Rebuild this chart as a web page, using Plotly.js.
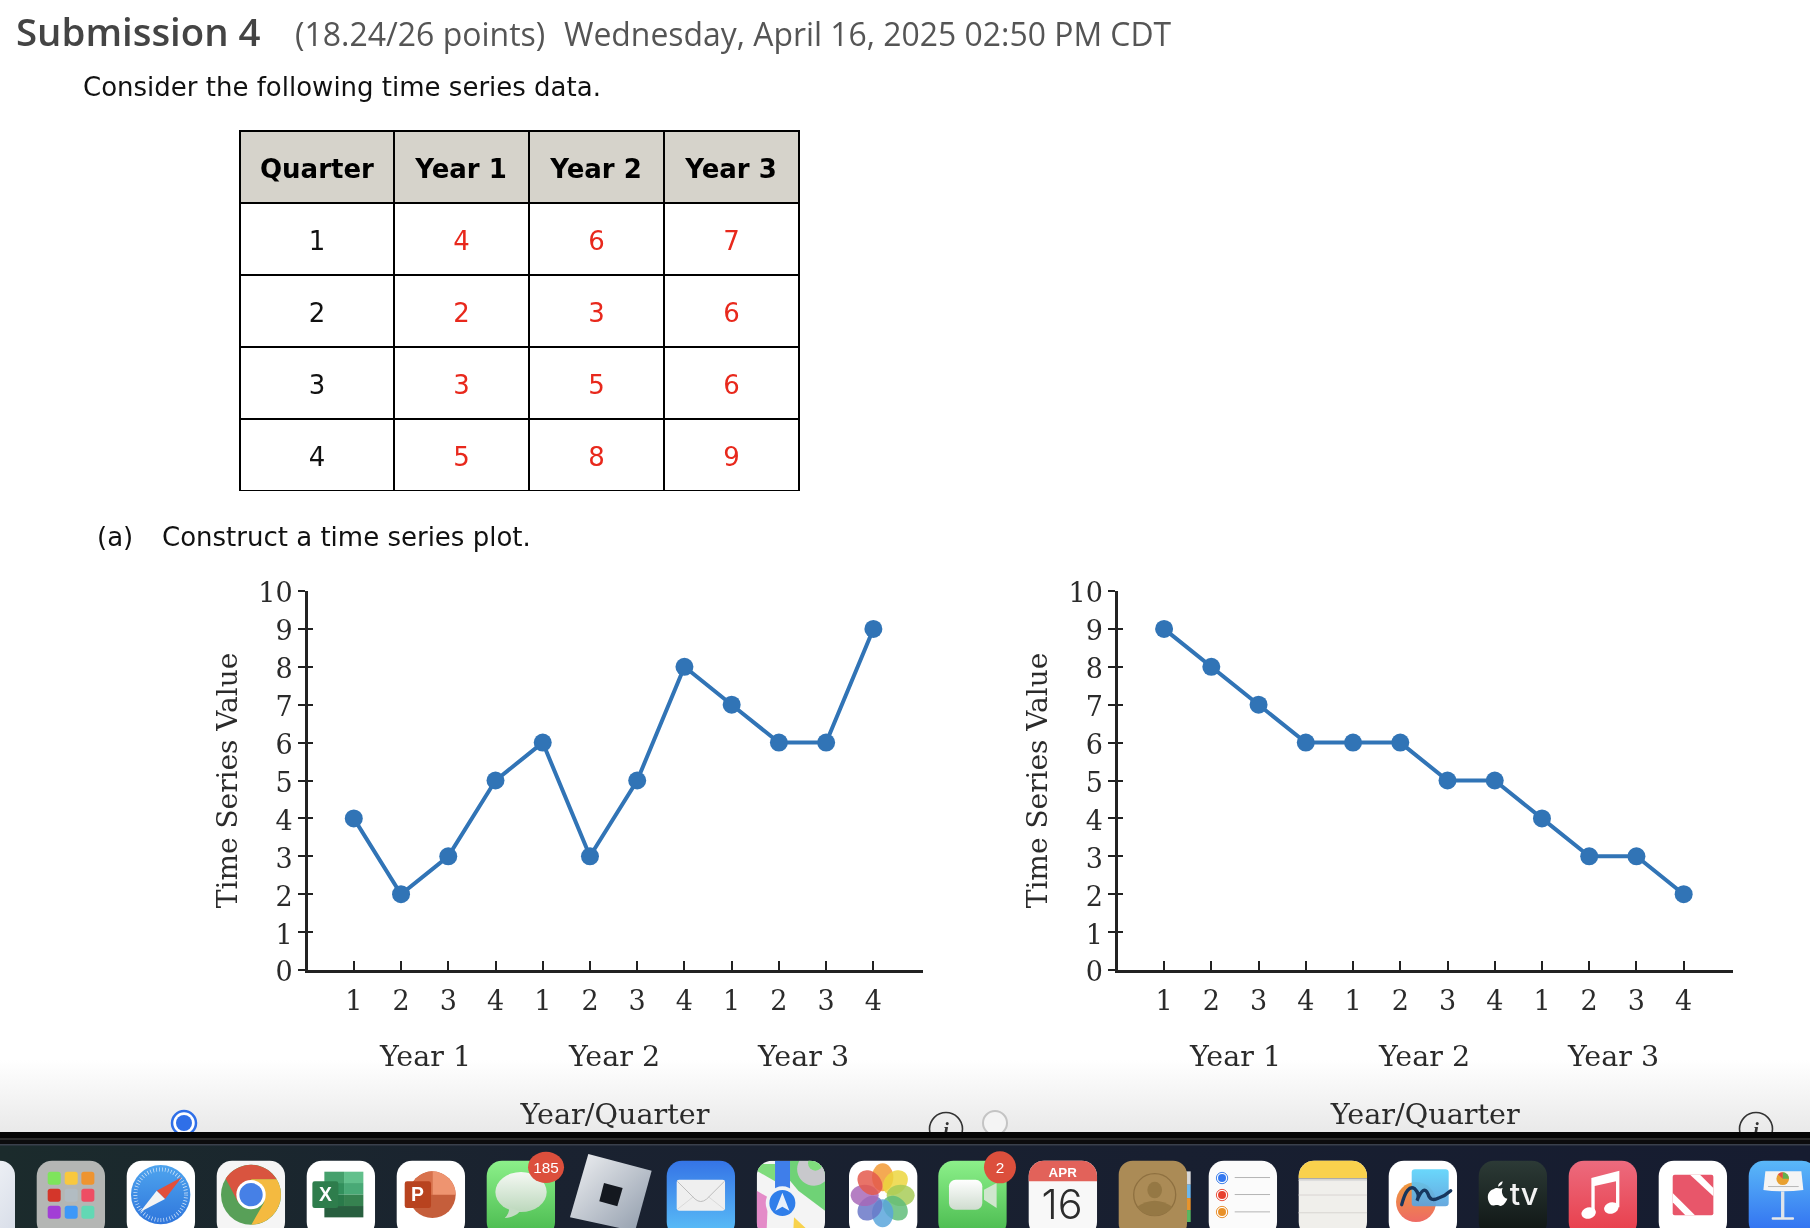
<!DOCTYPE html>
<html><head><meta charset="utf-8">
<script src="https://cdn.plot.ly/plotly-3.0.1.min.js"></script>
<style>
html,body{margin:0;padding:0;width:1810px;height:1228px;overflow:hidden;background:#fff}
#fade{position:absolute;left:0;top:1060px;width:1810px;height:72px;background:linear-gradient(#fff,#e9e9e9)}
#plot{position:absolute;left:0;top:0;width:1810px;height:1228px}
#dock{position:absolute;left:0;top:0;width:1810px;height:1228px;pointer-events:none}
</style></head><body>
<div id="fade"></div><div id="plot"></div>
<svg id="dock" viewBox="0 0 1810 1228" xmlns="http://www.w3.org/2000/svg">
<defs>
<linearGradient id="bar" x1="0" y1="0" x2="1" y2="0"><stop offset="0" stop-color="#1b2b2c"/><stop offset=".3" stop-color="#1a2230"/><stop offset="1" stop-color="#161c30"/></linearGradient>
<linearGradient id="gm" x1="0" y1="0" x2="0" y2="1"><stop offset="0" stop-color="#8cf08a"/><stop offset="1" stop-color="#47b84c"/></linearGradient>
<linearGradient id="gb" x1="0" y1="0" x2="0" y2="1"><stop offset="0" stop-color="#3574e6"/><stop offset="1" stop-color="#5cc2f8"/></linearGradient>
<linearGradient id="gr" x1="0" y1="0" x2="0" y2="1"><stop offset="0" stop-color="#ec6b7e"/><stop offset="1" stop-color="#e83c48"/></linearGradient>
<linearGradient id="gk" x1="0" y1="0" x2="0" y2="1"><stop offset="0" stop-color="#5ab8f8"/><stop offset="1" stop-color="#2f6cf0"/></linearGradient>
<linearGradient id="gs" x1="0" y1="0" x2="1" y2="1"><stop offset="0" stop-color="#f0f1f3"/><stop offset="1" stop-color="#8e9aaa"/></linearGradient>
<linearGradient id="gw" x1="0" y1="0" x2="0" y2="1"><stop offset="0" stop-color="#f4f8f3"/><stop offset="1" stop-color="#bcd8bc"/></linearGradient>
<linearGradient id="gsf" x1="0" y1="0" x2="0" y2="1"><stop offset="0" stop-color="#4ea4ee"/><stop offset="1" stop-color="#2f76dc"/></linearGradient>
<linearGradient id="gt" x1="0" y1="0" x2="0" y2="1"><stop offset="0" stop-color="#2c3a36"/><stop offset="1" stop-color="#0e1413"/></linearGradient>
<linearGradient id="gf" x1="0" y1="0" x2="0" y2="1"><stop offset="0" stop-color="#5ed4fb"/><stop offset="1" stop-color="#5ca2dc"/></linearGradient>
<linearGradient id="go" x1="0" y1="0" x2="0" y2="1"><stop offset="0" stop-color="#ee9a3c"/><stop offset="1" stop-color="#ee6a64"/></linearGradient>
<linearGradient id="gfi" x1="0" y1="0" x2="1" y2="1"><stop offset="0" stop-color="#fbfcfd"/><stop offset="1" stop-color="#d4dae6"/></linearGradient>
<linearGradient id="gfb" x1="0" y1="0" x2="0" y2="1"><stop offset="0" stop-color="#ffffff"/><stop offset="1" stop-color="#cfdccf"/></linearGradient>
</defs>
<circle cx="184" cy="1123" r="12" fill="#fff" stroke="#2f6fe8" stroke-width="2.5"/><circle cx="184" cy="1123" r="8" fill="#2f6fe8"/>
<circle cx="995" cy="1123" r="12" fill="#f4f4f4" stroke="#c4c4c4" stroke-width="2"/>
<circle cx="946" cy="1129" r="16.5" fill="none" stroke="#333" stroke-width="1.6"/><text x="946" y="1137" font-family="Liberation Serif" font-style="italic" font-weight="bold" font-size="20" text-anchor="middle" fill="#333">i</text>
<circle cx="1756" cy="1129" r="16.5" fill="none" stroke="#333" stroke-width="1.6"/><text x="1756" y="1137" font-family="Liberation Serif" font-style="italic" font-weight="bold" font-size="20" text-anchor="middle" fill="#333">i</text>

<rect x="0" y="1132" width="1810" height="96" fill="url(#bar)"/>
<rect x="0" y="1132" width="1810" height="6" fill="#050505"/>
<rect x="0" y="1138" width="1810" height="2" fill="#2a2a2a"/>
<rect x="0" y="1140" width="1810" height="4" fill="#0c0c0e"/>
<rect x="0" y="1144" width="1810" height="1.5" fill="#3a404c"/>

<rect x="-50" y="1160.7" width="65" height="90" rx="15" fill="url(#gfi)"/>
<g transform="translate(36.7,1160.7) scale(.3333)"><rect width="205" height="230" rx="46" fill="#b4b6b4"/>
<rect x="33" y="33" width="39" height="39" rx="8" fill="#7ee45c"/><rect x="84" y="33" width="39" height="39" rx="8" fill="#f8c83e"/><rect x="134" y="33" width="39" height="39" rx="8" fill="#ee9430"/>
<rect x="33" y="84" width="39" height="39" rx="8" fill="#d4362a"/><rect x="84" y="84" width="39" height="39" rx="8" fill="#b2bcc2"/><rect x="134" y="84" width="39" height="39" rx="8" fill="#ee4e64"/>
<rect x="33" y="135" width="39" height="39" rx="8" fill="#a23ed6"/><rect x="84" y="135" width="39" height="39" rx="8" fill="#3e98f8"/><rect x="134" y="135" width="39" height="39" rx="8" fill="#62d8b4"/></g>

<g transform="translate(126.7,1160.7) scale(.3333)"><rect width="205" height="230" rx="46" fill="#fff"/><circle cx="102" cy="102" r="89" fill="url(#gsf)"/><circle cx="102" cy="102" r="76" fill="none" stroke="#dbeafa" stroke-width="12" stroke-dasharray="2 7"/><path d="M165 50L90 90L115 115Z" fill="#e2503c"/><path d="M40 154L90 90L115 115Z" fill="#f4f4f4"/></g>

<g transform="translate(216.7,1160.7) scale(.3333)"><rect width="205" height="230" rx="46" fill="#f5f5f5"/><circle cx="103" cy="102" r="90" fill="#58a058"/><path d="M27 54A90 90 0 0 1 180 56L103 56L64 124Z" fill="#d9543f"/><path d="M180 56A90 90 0 0 1 104 192L143 124L103 56Z" fill="#f4ba40"/><circle cx="103" cy="102" r="44" fill="#fff"/><circle cx="103" cy="102" r="35" fill="#4680e6"/></g>

<g transform="translate(306.7,1160.7) scale(.3333)"><rect width="205" height="230" rx="46" fill="#fff"/>
<rect x="53" y="33" width="59" height="34" fill="#45a06c"/><rect x="112" y="33" width="58" height="34" fill="#62c08c"/>
<rect x="53" y="67" width="59" height="35" fill="#32905c"/><rect x="112" y="67" width="58" height="35" fill="#49a976"/>
<rect x="53" y="102" width="59" height="34" fill="#2a7a4a"/><rect x="112" y="102" width="58" height="34" fill="#368250"/>
<rect x="53" y="136" width="117" height="34" fill="#285f3f"/>
<rect x="17" y="62" width="78" height="80" rx="7" fill="#2e7d4c"/><text x="56" y="122" font-family="Liberation Sans" font-weight="bold" font-size="58" text-anchor="middle" fill="#fff">X</text></g>

<g transform="translate(396.7,1160.7) scale(.3333)"><rect width="205" height="230" rx="46" fill="#fff"/><circle cx="107" cy="102" r="70" fill="#c55e3b"/><path d="M107 32A70 70 0 0 1 177 102L107 102Z" fill="#ee9470"/><path d="M107 32A70 70 0 0 0 37 102L107 102Z" fill="#d8714c"/><rect x="24" y="62" width="79" height="80" rx="7" fill="#b8431f"/><text x="62" y="122" font-family="Liberation Sans" font-weight="bold" font-size="58" text-anchor="middle" fill="#fff">P</text></g>

<g transform="translate(486.7,1160.7) scale(.3333)"><rect width="205" height="230" rx="46" fill="url(#gm)"/><ellipse cx="103" cy="94" rx="77" ry="60" fill="url(#gw)"/><path d="M68 140Q68 160 54 172Q85 170 100 152Z" fill="#c4dcc4"/><ellipse cx="178" cy="20" rx="54" ry="47" fill="#dc4f3c"/><text x="178" y="37" font-family="Liberation Sans" font-size="46" text-anchor="middle" fill="#fff">185</text></g>

<g transform="translate(460,1128) scale(.3333)"><path d="M385 78L575 128L525 310L330 268Z" fill="url(#gs)"/><path d="M432 165L488 180L472 235L418 220Z" fill="#14181f"/></g>

<g transform="translate(666.7,1160.7) scale(.3333)"><rect width="205" height="230" rx="46" fill="url(#gb)"/><rect x="30" y="57" width="145" height="93" rx="7" fill="#efefef"/><path d="M32 62L85 115Q102 130 120 115L173 62" fill="none" stroke="#bdbdbd" stroke-width="3"/><path d="M32 146L80 108M173 146L125 108" fill="none" stroke="#cfcfcf" stroke-width="2"/></g>

<g transform="translate(756.7,1160.7) scale(.3333)"><clipPath id="cm"><rect width="205" height="230" rx="46"/></clipPath><g clip-path="url(#cm)"><rect width="205" height="230" fill="#f4f4f4"/>
<path d="M0 10H55V62L0 30Z" fill="#7fdc7c"/><path d="M100 0H205V150L125 90L100 60Z" fill="#6fd276"/><path d="M128 0A50 50 0 0 0 205 62V0Z" fill="#c8c8cc"/><circle cx="176" cy="8" r="22" fill="#7fdc7c"/><path d="M55 0H100V85H55Z" fill="#3f7eea"/><path d="M0 90L34 110L30 205H0Z" fill="#e48bc8"/><path d="M112 170L150 205H110Z" fill="#f8d24c"/>
<circle cx="77" cy="127" r="50" fill="#f2f4f6"/><circle cx="77" cy="127" r="39" fill="#2f7eea"/><path d="M77 96L98 150L77 138L56 150Z" fill="#e8f0fa"/></g></g>

<g transform="translate(849,1160.7) scale(.3333)"><rect width="205" height="230" rx="46" fill="#fff"/><g style="mix-blend-mode:multiply">
<ellipse cx="101" cy="50" rx="32" ry="42" fill="#f29a35" opacity=".85"/>
<ellipse cx="101" cy="50" rx="32" ry="42" fill="#ecd640" opacity=".85" transform="rotate(45 101 104)"/>
<ellipse cx="101" cy="50" rx="32" ry="42" fill="#a8cc58" opacity=".85" transform="rotate(90 101 104)"/>
<ellipse cx="101" cy="50" rx="32" ry="42" fill="#62bd7a" opacity=".85" transform="rotate(135 101 104)"/>
<ellipse cx="101" cy="50" rx="32" ry="42" fill="#5aa6dc" opacity=".85" transform="rotate(180 101 104)"/>
<ellipse cx="101" cy="50" rx="32" ry="42" fill="#6a78c8" opacity=".85" transform="rotate(225 101 104)"/>
<ellipse cx="101" cy="50" rx="32" ry="42" fill="#a868b8" opacity=".85" transform="rotate(270 101 104)"/>
<ellipse cx="101" cy="50" rx="32" ry="42" fill="#e45a4e" opacity=".85" transform="rotate(315 101 104)"/></g></g>

<g transform="translate(938.3,1160.7) scale(.3333)"><rect width="205" height="230" rx="46" fill="url(#gm)"/><rect x="32" y="57" width="100" height="90" rx="20" fill="url(#gfb)"/><path d="M137 87L175 67V142L137 117Z" fill="#cfe6cd"/><circle cx="185" cy="20" r="48" fill="#dc4f3c"/><text x="185" y="37" font-family="Liberation Sans" font-size="46" text-anchor="middle" fill="#fff">2</text></g>

<g transform="translate(1028.7,1160.7) scale(.3333)"><rect width="205" height="230" rx="46" fill="#f8f8f8"/><path d="M0 62V46A46 46 0 0 1 46 0H159A46 46 0 0 1 205 46V62Z" fill="#e2625a"/><text x="102" y="48" font-family="Liberation Sans" font-weight="bold" font-size="40" text-anchor="middle" fill="#fff">APR</text><text x="100" y="174" font-family="'Inter','Liberation Sans'" font-weight="300" font-size="124" text-anchor="middle" fill="#2c2c2c">16</text></g>

<g transform="translate(1118.7,1160.7) scale(.3333)"><rect x="190" y="32" width="26" height="40" fill="#d8d8d8"/><rect x="190" y="72" width="26" height="40" fill="#6cb8ee"/><rect x="190" y="112" width="26" height="36" fill="#e8942c"/><rect x="190" y="148" width="26" height="36" fill="#58b860"/><rect width="205" height="230" rx="42" fill="#ab8b56"/><circle cx="108" cy="102" r="63" fill="none" stroke="#8e7040" stroke-width="4"/><ellipse cx="108" cy="88" rx="22" ry="25" fill="#957844"/><path d="M55 138Q108 102 161 138A64 64 0 0 1 55 138Z" fill="#957844"/></g>

<g transform="translate(1208.7,1160.7) scale(.3333)"><rect width="205" height="230" rx="46" fill="#fbfbfb"/>
<circle cx="40" cy="52" r="17" fill="#fff" stroke="#3f80e8" stroke-width="3"/><circle cx="40" cy="52" r="12" fill="#3478f0"/>
<circle cx="40" cy="103" r="17" fill="#fff" stroke="#e8503c" stroke-width="3"/><circle cx="40" cy="103" r="12" fill="#e8402f"/>
<circle cx="40" cy="154" r="17" fill="#fff" stroke="#e89030" stroke-width="3"/><circle cx="40" cy="154" r="12" fill="#e89028"/>
<rect x="78" y="49" width="106" height="3" fill="#b4b4b4"/><rect x="78" y="100" width="106" height="3" fill="#b4b4b4"/><rect x="78" y="152" width="106" height="3" fill="#b4b4b4"/></g>

<g transform="translate(1298.7,1160.7) scale(.3333)"><rect width="205" height="230" rx="46" fill="#f0efeb"/><path d="M0 52V46A46 46 0 0 1 46 0H159A46 46 0 0 1 205 46V52Z" fill="#f9d14d"/><rect y="52" width="205" height="4" fill="#a9a9a9"/><rect y="58" width="205" height="3" fill="#ddd" stroke-dasharray="2 4"/><rect y="101" width="205" height="4" fill="#dedcd8"/><rect y="154" width="205" height="4" fill="#dedcd8"/></g>

<g transform="translate(1388.7,1160.7) scale(.3333)"><rect width="205" height="230" rx="46" fill="#fff"/><circle cx="82" cy="124" r="60" fill="url(#go)"/><rect x="69" y="26" width="111" height="111" rx="10" fill="url(#gf)" opacity=".93"/><path d="M39 132Q55 70 78 84Q95 100 85 120Q105 70 118 100Q125 125 150 112Q170 105 186 90" fill="none" stroke="#17375e" stroke-width="10" stroke-linecap="round"/></g>

<g transform="translate(1478.7,1160.7) scale(.3333)"><rect width="205" height="230" rx="46" fill="url(#gt)"/><path d="M44 86C54 78 62 86 72 82C66 92 72 112 86 114C80 128 70 140 60 134C52 130 48 136 38 134C26 124 20 94 44 86ZM58 78C58 70 64 64 72 62C72 70 66 76 58 78Z" fill="#fff"/><text x="136" y="134" font-family="'Inter','Liberation Sans'" font-weight="500" font-size="92" text-anchor="middle" fill="#f2f2f2">tv</text></g>

<g transform="translate(1568.7,1160.7) scale(.3333)"><rect width="205" height="230" rx="46" fill="url(#gr)"/><path d="M68 52L152 30V140H142V62L78 76V155H68Z" fill="#fff"/><ellipse cx="60" cy="157" rx="22" ry="17" fill="#fff" transform="rotate(-15 60 157)"/><ellipse cx="128" cy="142" rx="22" ry="17" fill="#fff" transform="rotate(-15 128 142)"/></g>

<g transform="translate(1658.7,1160.7) scale(.3333)"><rect width="205" height="230" rx="46" fill="#fff"/><rect x="42" y="42" width="122" height="122" rx="6" fill="#e8566a"/><path d="M94 42H124L164 82V107Z" fill="#fff"/><path d="M42 97V125L80 164H109Z" fill="#fff"/></g>

<g transform="translate(1748.7,1160.7) scale(.3333)"><rect width="205" height="230" rx="46" fill="url(#gk)"/><path d="M50 32H158L164 88Q104 96 44 88Z" fill="#f4f4f4"/><rect x="58" y="76" width="92" height="3" fill="#b8b8b8"/><circle cx="102" cy="54" r="19" fill="#e8a030"/><path d="M102 54V35A19 19 0 0 1 121 54Z" fill="#60b050"/><path d="M102 54L88 41A19 19 0 0 1 102 35Z" fill="#e04c48"/><rect x="97" y="92" width="10" height="80" fill="#dfe4ea"/><rect x="69" y="170" width="67" height="7" rx="3" fill="#e8e8e8"/></g>
</svg>
<script>
// ---- values ----
var quarterRows = ["1", "2", "3", "4"];
var year1Values = [4, 2, 3, 5];
var year2Values = [6, 3, 5, 8];
var year3Values = [7, 6, 6, 9];
var tableHeaders = ["Quarter", "Year 1", "Year 2", "Year 3"];
var periods = [1, 2, 3, 4, 5, 6, 7, 8, 9, 10, 11, 12];
var quarterLabels = ["1", "2", "3", "4", "1", "2", "3", "4", "1", "2", "3", "4"];
var yearLabels = ["Year 1", "Year 2", "Year 3"];
var yearCenters = [2.5, 6.5, 10.5];
var leftSeries = [4, 2, 3, 5, 6, 3, 5, 8, 7, 6, 6, 9];
var rightSeries = [9, 8, 7, 6, 6, 6, 5, 5, 4, 3, 3, 2];
var valueTicks = [0, 1, 2, 3, 4, 5, 6, 7, 8, 9, 10];

var W = 1810, H = 1228;
function px(v) { return v / W; }
function py(v) { return 1 - v / H; }
var serif = "'DejaVu Serif', serif";
var sans = "'DejaVu Sans', sans-serif";
var head = "'Open Sans', sans-serif";
var lineColor = "#3174b6", inkColor = "#2b2b2b", axisColor = "#222222";

function xAxis(x0, x1) {
  return {
    domain: [px(x0), px(x1)], range: [0.02, 13.04], tickmode: "array",
    tickvals: periods, ticktext: quarterLabels, ticks: "inside", ticklen: 9, tickwidth: 2, tickcolor: axisColor,
    ticklabelstandoff: 5, tickfont: {family: serif, size: 27, color: inkColor},
    showline: true, linecolor: axisColor, linewidth: 2.5, showgrid: false, zeroline: false, fixedrange: true,
    title: {text: "Year/Quarter", font: {family: serif, size: 28.7, color: inkColor}, standoff: 89}
  };
}
function yAxis() {
  return {
    domain: [py(970), py(591)], range: [0, 10], tickmode: "array", tickvals: valueTicks,
    ticks: "outside", ticklen: 7, tickwidth: 2, tickcolor: axisColor,
    tickfont: {family: serif, size: 27, color: inkColor},
    showline: true, linecolor: axisColor, linewidth: 2.5, showgrid: false, zeroline: false, fixedrange: true,
    title: {text: "Time Series Value", font: {family: serif, size: 28, color: inkColor}, standoff: 13}
  };
}
function inner(over) {
  return {overlaying: over, domain: [py(970), py(591)], range: [0, 10], tickmode: "array", tickvals: valueTicks,
    ticks: "inside", ticklen: 5, tickwidth: 2, tickcolor: axisColor, showticklabels: false, showline: false, showgrid: false, zeroline: false, fixedrange: true};
}
function seriesTrace(vals, xa, ya) {
  return {type: "scatter", mode: "lines+markers", x: periods, y: vals, xaxis: xa, yaxis: ya,
    line: {color: lineColor, width: 4}, marker: {color: lineColor, size: 18}, hoverinfo: "none", showlegend: false, cliponaxis: false};
}
function guide(xa, ya) { return {type: "scatter", mode: "none", x: [null], y: [null], xaxis: xa, yaxis: ya, hoverinfo: "none", showlegend: false}; }

var red = "#e8281c", black = "#111111";
var tableTrace = {
  type: "table", domain: {x: [px(240), px(799)], y: [py(491), py(131)]},
  columnwidth: [154, 135, 135, 135],
  header: {values: tableHeaders.map(function (t) { return "<b>" + t + "</b>"; }), height: 72, align: "center",
    fill: {color: "#d6d3cb"}, line: {color: "#000", width: 2}, font: {family: sans, size: 26, color: "#000"}},
  cells: {values: [quarterRows, year1Values, year2Values, year3Values], height: 72, align: "center",
    fill: {color: "#fff"}, line: {color: "#000", width: 2},
    font: {family: sans, size: 26, color: [black, red, red, red]}}
};

function pageText(text, x, y, size, color, family, weight) {
  return {text: text, xref: "paper", yref: "paper", x: px(x), y: py(y), xanchor: "left", yanchor: "middle", showarrow: false,
    font: {size: size, color: color, family: family, weight: weight || "normal"}};
}
var annotations = [
  pageText("Submission 4", 14, 31, 38.4, "#444444", head, 600),
  pageText("(18.24/26 points)", 293, 33, 32, "#555555", head),
  pageText("Wednesday, April 16, 2025 02:50 PM CDT", 562, 33, 31.9, "#555555", head),
  pageText("Consider the following time series data.", 81, 87, 26, "#111111", sans),
  pageText("(a)", 95, 537, 26, "#111111", sans),
  pageText("Construct a time series plot.", 160, 537, 26, "#111111", sans)
];
yearLabels.forEach(function (label, i) {
  ["x", "x2"].forEach(function (xr) {
    annotations.push({text: label, xref: xr, yref: "paper", x: yearCenters[i], y: py(1056), yanchor: "middle", showarrow: false,
      font: {family: serif, size: 28.5, color: inkColor}});
  });
});

Plotly.newPlot("plot", [
  tableTrace,
  guide("x", "y3"), guide("x2", "y4"),
  seriesTrace(leftSeries, "x", "y"), seriesTrace(rightSeries, "x2", "y2")
], {
  width: W, height: H, margin: {l: 0, r: 0, t: 0, b: 0}, paper_bgcolor: "rgba(0,0,0,0)", plot_bgcolor: "rgba(0,0,0,0)",
  showlegend: false, annotations: annotations,
  xaxis: xAxis(307.5, 922.5), yaxis: yAxis(), yaxis3: inner("y"),
  xaxis2: Object.assign(xAxis(1117.8, 1732.8), {anchor: "y2"}),
  yaxis2: Object.assign(yAxis(), {anchor: "x2"}),
  yaxis4: Object.assign(inner("y2"), {anchor: "x2"})
}, {displayModeBar: false, staticPlot: true}).then(function () {
  // plotly's table puts text at the top of a cell; the reference centres it vertically
  document.querySelectorAll("#plot .cell-text").forEach(function (el) {
    var isHeader = tableHeaders.indexOf(el.textContent.trim()) >= 0;
    el.style.transform = "translateY(" + (isHeader ? 15 : 19) + "px)";
  });
  document.querySelectorAll("#plot .ytick text, #plot .y2tick text").forEach(function (el) { el.setAttribute("dy", "2"); });
});
</script>
</body></html>
